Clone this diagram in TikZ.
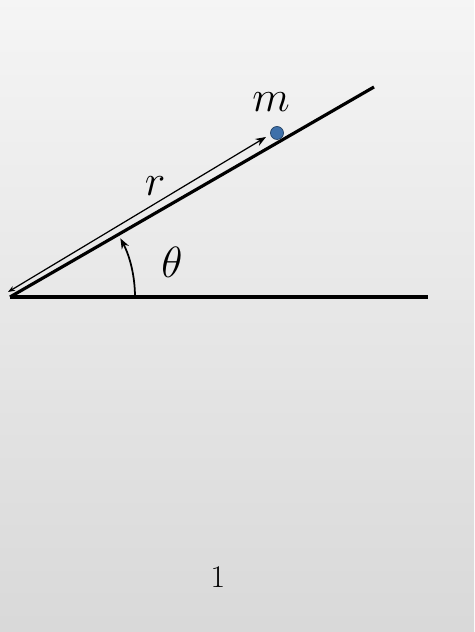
\documentclass[tikz,border=0pt]{standalone}
\usetikzlibrary{arrows.meta}
\definecolor{massblue}{RGB}{62,112,170}
\begin{document}
\begin{tikzpicture}[x=0.02cm,y=0.02cm,
  bar/.style={line width=1.8pt},
  lbl/.style={font=\fontsize{25}{29}\selectfont}]
  % photo background
  \shade[top color=gray!8, bottom color=gray!30] (0,0) rectangle (474,632);
  % horizontal and inclined lines
  \coordinate (O) at (10,335);
  \coordinate (H) at (428,335);
  \coordinate (E) at (374,545);
  \draw[bar] (O) -- (H);
  \draw[bar] (O) -- (E);
  % mass on the line
  \node[circle, fill=massblue, draw=massblue!60!black, inner sep=0pt, minimum size=0.26cm] (mass) at (277,499) {};
  \node[lbl] (mlbl) at (271,530) {$m$};
  % position vector r
  \coordinate (r0) at (8,340);
  \coordinate (r1) at (266,495);
  \draw[{Stealth[length=4pt]}-{Stealth[length=6pt]}, line width=0.7pt] (r0) -- (r1);
  \node[lbl] (rlbl) at (155,446) {$r$};
  % angle theta
  \draw[-{Stealth[length=6pt]}, line width=1pt] (O) ++(0:125) arc[start angle=0, end angle=28, radius=125];
  \node[lbl] (th) at (172,370) {$\theta$};
  % page number
  \node[font=\fontsize{18}{21}\selectfont] (pg) at (218,55) {1};
\end{tikzpicture}
\end{document}
